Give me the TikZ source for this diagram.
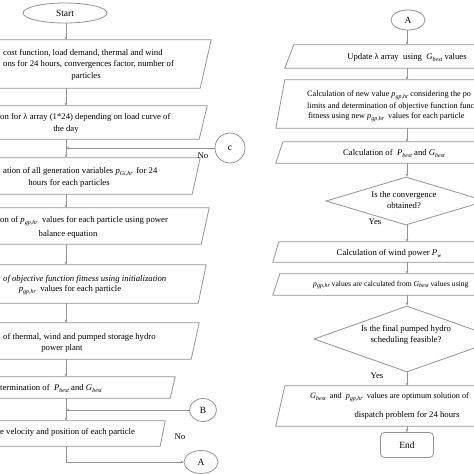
\documentclass[tikz,border=0pt]{standalone}
\usepackage{fontspec}
\setmainfont{Liberation Serif}
\usetikzlibrary{shapes.geometric,arrows.meta}
\newcommand\mysub[1]{\raisebox{-0.5ex}{\fontsize{6}{6}\selectfont\itshape #1}}
\newcommand\pgh{\textit{p}\mysub{gp,hr}}
\newcommand\Gbest{\textit{G}\mysub{best}}
\newcommand\Pbest{\textit{P}\mysub{best}}
\newcommand\mkpar[6]{%
  \node[pbox, minimum width=#4pt, minimum height=#5pt] (#1) at (#2,#3) {};
  \draw[ln] ([xshift=#6pt]#1.north west) -- ([xshift=#6pt]#1.north east) -- ([xshift=-#6pt]#1.south east) -- ([xshift=-#6pt]#1.south west) -- cycle;}
\begin{document}
\begin{tikzpicture}[x=1pt,y=-1pt,
  ln/.style={draw=black!42, line width=0.8pt},
  pbox/.style={draw=none, shape=rectangle, inner sep=0pt},
  arr/.style={ln, -{Stealth[length=3.2pt,width=2.8pt]}},
  txt/.style={font=\fontsize{8.7}{11}\selectfont, inner sep=0pt, text=black},
  stxt/.style={txt, font=\fontsize{8.2}{11}\selectfont},
  term/.style={ln, txt, font=\fontsize{9.5}{11}\selectfont},
  dia/.style={ln, diamond, inner sep=0pt}]
\useasboundingbox (0,0) rectangle (474,474);
\fill[white] (0,0) rectangle (474,474);
\coordinate (colL) at (66,0);
\coordinate (colR) at (407,0);
% ---------------- left column
\node[term, ellipse, minimum width=84pt, minimum height=20pt] (start) at (65,13) {Start};
\mkpar{b1}{82.75}{64}{245.5}{48}{5.5}
\mkpar{b2}{81.5}{122.5}{243}{33}{4}
\mkpar{b3}{78}{176}{236}{36}{4}
\mkpar{b4}{82.5}{226}{245}{36}{4}
\mkpar{b5}{81}{284}{242}{38}{4}
\mkpar{b6}{77.5}{341}{235}{36}{4}
\mkpar{b7}{66.25}{387.5}{212.5}{21}{2.5}
\mkpar{b8}{61.25}{433.5}{202.5}{25}{2.5}
\node[txt, anchor=west] (t1a) at (3,53) {cost function, load demand, thermal and wind};
\node[txt, anchor=west] (t1b) at (3,64.5) {ons for 24 hours, convergences factor, number of};
\node[txt] (t1c) at (86,76) {particles};
\node[txt, anchor=west] (t2a) at (0,117) {on for λ array (1*24) depending on load curve of};
\node[txt] (t2b) at (66,129) {the day};
\node[txt, anchor=west] (t3a) at (3,172) {ation of all generation variables \textit{p}\mysub{Gi,hr} \,for 24};
\node[txt] (t3b) at (69,183) {hours for each particles};
\node[txt, anchor=west] (t4a) at (0,221) {on of \pgh\ \ values for each particle using power};
\node[txt] (t4b) at (68,234) {balance equation};
\node[txt, anchor=west] (t5a) at (3,279) {\textit{of objective function fitness using initialization}};
\node[txt] (t5b) at (70,290) {\pgh\ \ values for each particle};
\node[txt, anchor=west] (t6a) at (3,337) {of thermal, wind and pumped storage hydro};
\node[txt] (t6b) at (62,348) {power plant};
\node[txt, anchor=west] (t7) at (0,388) {termination of \ \Pbest\ and \Gbest};
\node[txt, anchor=west] (t8) at (0,432) {e velocity and position of each particle};
\node[term, circle, minimum size=30pt, inner sep=0pt] (C) at (230,148) {c};
\node[term, ellipse, minimum width=27pt, minimum height=23pt, inner sep=0pt] (B) at (203,410) {B};
\node[term, ellipse, minimum width=34pt, minimum height=23pt, inner sep=0pt] (A1) at (201,462) {A};
\node[txt] (no1) at (203,156) {No};
\node[txt] (no2) at (180,437) {No};
\draw[arr] (start.south -| colL) -- (b1.north -| colL);
\draw[arr] (b1.south -| colL) -- (b2.north -| colL);
\draw[arr] (b2.south -| colL) -- (b3.north -| colL);
\draw[arr] (b3.south -| colL) -- (b4.north -| colL);
\draw[arr] (b4.south -| colL) -- (b5.north -| colL);
\draw[arr] (b5.south -| colL) -- (b6.north -| colL);
\draw[arr] (b6.south -| colL) -- (b7.north -| colL);
\draw[arr] (b7.south -| colL) -- (b8.north -| colL);
\draw[arr] (C.west) -- (C.west -| colL);
\draw[arr] (B.west) -- (B.west -| colL);
\draw[arr] (b8.south -| colL) |- (A1.west);
% ---------------- right column
\node[term, ellipse, minimum width=34pt, minimum height=20pt, inner sep=0pt] (A2) at (408,20) {A};
\mkpar{r1}{407}{56.5}{235}{23}{4.5}
\mkpar{r2}{407}{104}{253}{48}{4.5}
\mkpar{r3}{407}{152.5}{255}{21}{3.5}
\node[dia, minimum width=160pt, minimum height=48pt] (d1) at (406,201) {};
\mkpar{r4}{407}{252}{262}{20}{3}
\mkpar{r5}{407}{284.5}{261}{21}{3.5}
\node[dia, minimum width=186pt, minimum height=66pt] (d2) at (407,339) {};
\mkpar{r6}{407}{406}{253}{40}{4.5}
\node[term, rounded corners=4pt, minimum width=53pt, minimum height=25pt, inner sep=0pt] (end) at (407,445) {End};
\node[txt] (s1) at (407,57) {Update λ array \ using \ \Gbest\ values};
\node[stxt, anchor=west] (s2a) at (307,95) {Calculation of new value \pgh\ considering the po};
\node[stxt, anchor=west] (s2b) at (307,106) {limits and determination of objective function func};
\node[stxt, anchor=west] (s2c) at (308,117) {fitness using new \pgh\ \ values for each particle};
\node[txt] (s3) at (394,153) {Calculation of \ \Pbest\ and \Gbest};
\node[txt, align=center] (q1) at (404,200.5) {Is the convergence\\obtained?};
\node[txt] (y1) at (375,222) {Yes};
\node[txt] (s4) at (389,253) {Calculation of wind power \textit{P}\mysub{w}};
\node[stxt, font=\fontsize{7.6}{11}\selectfont, anchor=west] (s5) at (313,285) {\pgh\ values are calculated from \Gbest\ values using};
\node[txt, align=center] (q2) at (406,335) {Is the final pumped hydro\\scheduling feasible?};
\node[txt] (y2) at (377,376) {Yes};
\node[stxt, anchor=west] (s6a) at (310,397) {\Gbest\ \ and \ \pgh\ \ values are optimum solution of};
\node[txt] (s6b) at (407,415) {dispatch problem for 24 hours};
\draw[arr] (A2.south -| colR) -- (r1.north -| colR);
\draw[arr] (r1.south -| colR) -- (r2.north -| colR);
\draw[arr] (r2.south -| colR) -- (r3.north -| colR);
\draw[arr] (r3.south -| colR) -- (d1.north -| colR);
\draw[arr] (d1.south -| colR) -- (r4.north -| colR);
\draw[arr] (r4.south -| colR) -- (r5.north -| colR);
\draw[arr] (r5.south -| colR) -- (d2.north -| colR);
\draw[arr] (d2.south -| colR) -- (r6.north -| colR);
\draw[arr] (r6.south -| colR) -- (end.north -| colR);
\end{tikzpicture}
\end{document}
